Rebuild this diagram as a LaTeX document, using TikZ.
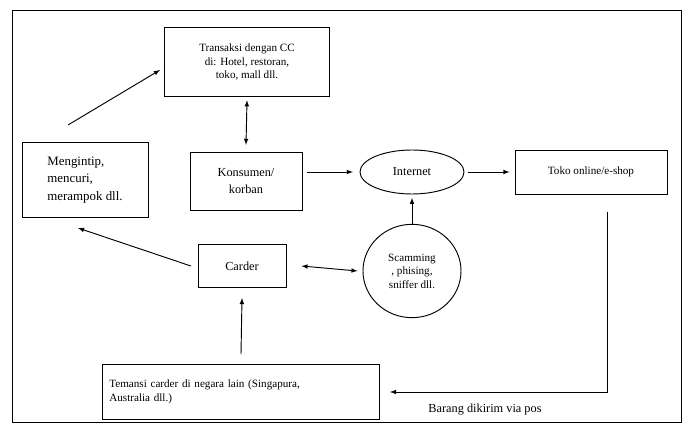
\documentclass[tikz,border=0pt]{standalone}
\usepackage{fontspec}
\setmainfont{Liberation Serif}
\usetikzlibrary{shapes.geometric}
\begin{document}
\begin{tikzpicture}[x=0.03cm,y=-0.03cm,
  kotak/.style={draw,thick,align=center,font=\fontsize{9.5}{11.5}\selectfont},
  panah/.style={thick,-latex}]
	\useasboundingbox (0,0) rectangle (692,433);
	\draw (12,10) rectangle (681,422);
	\node [kotak,minimum width=4.95cm,minimum height=2.07cm] (trans) at (247,62) {Transaksi dengan CC\\di: Hotel, restoran,\\toko, mall dll.};
	\node [kotak,align=left,minimum width=3.78cm,minimum height=2.25cm,font=\fontsize{11}{15}\selectfont] (intip) at (85,180) {Mengintip,\\mencuri,\\merampok dll.};
	\node [kotak,minimum width=3.36cm,minimum height=1.74cm,font=\fontsize{10.5}{14}\selectfont] (kons) at (246,181) {Konsumen/\\korban};
	\node [kotak,ellipse,minimum width=3.12cm,minimum height=1.32cm,font=\fontsize{10.5}{13}\selectfont] (inet) at (412,172) {Internet};
	\node [kotak,minimum width=4.56cm,minimum height=1.32cm] (toko) at (591,172) {Toko online/e-shop};
	\node [kotak,minimum width=2.64cm,minimum height=1.29cm,font=\fontsize{10.5}{13}\selectfont] (carder) at (242,266) {Carder};
	\node [kotak,ellipse,minimum width=2.94cm,minimum height=2.8cm] (scam) at (412,271) {Scamming\\, phising,\\sniffer dll.};
	\node [kotak,align=left,minimum width=8.3cm,minimum height=1.65cm,text width=7.9cm] (teman) at (241,392) {Temansi carder di negara lain (Singapura,\\Australia dll.)};
	\node [font=\fontsize{10.5}{12}\selectfont] (pos) at (485,410) {Barang dikirim via pos};
	\coordinate (a1) at (68,125);
	\coordinate (a2) at (160,70);
	\coordinate (b1) at (607,212);
	\coordinate (b2) at (607,392);
	\coordinate (b3) at (390,392);
	\draw [panah] (a1) -- (a2);
	\draw [thick,latex-latex] ([yshift=-0.1cm]trans.south) -- ([yshift=0.2cm]kons.north);
	\draw [panah] ([xshift=0.15cm]kons.east |- inet.west) -- ([xshift=-0.2cm]inet.west);
	\draw [panah] ([xshift=0.1cm]inet.east) -- ([xshift=-0.15cm]toko.west);
	\draw [panah] (scam.north) -- ([yshift=-0.1cm]inet.south);
	\draw [thick,latex-latex] ([xshift=0.45cm]carder.east) -- ([xshift=-0.15cm]scam.west);
	\draw [panah] ([xshift=-0.2cm]carder.west) -- (78,228);
	\draw [panah] ([yshift=0.3cm]teman.north) -- ([yshift=-0.3cm]carder.south);
	\draw [panah] (b1) -- (b2) -- (b3);
\end{tikzpicture}
\end{document}
